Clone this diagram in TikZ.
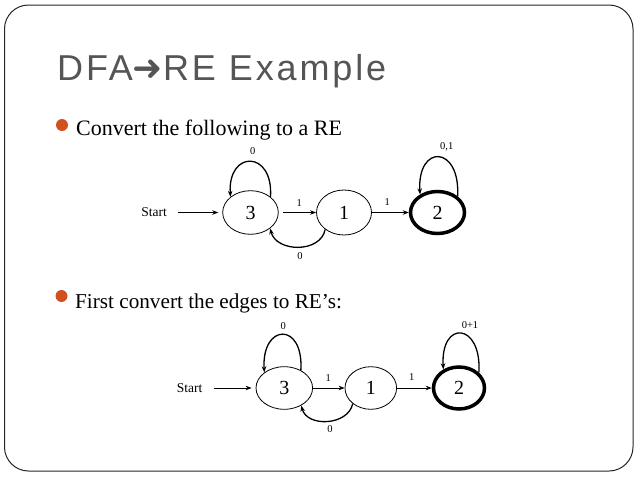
\documentclass[tikz,border=0pt]{standalone}
\usepackage{fontspec}
\setmainfont{Liberation Serif}
\newfontfamily\titlefont[LetterSpace=8]{Liberation Sans}
\newfontfamily\arrowfont{DejaVu Sans}
\usetikzlibrary{shapes.geometric,arrows.meta}
\definecolor{titlegray}{HTML}{555555}
\definecolor{bulletorange}{HTML}{D0501E}
\tikzset{
  state/.style={ellipse, draw, line width=0.8pt, inner sep=0pt, font=\fontsize{20}{20}\selectfont},
  final/.style={state, line width=3.5pt},
  lab/.style={font=\fontsize{10.5}{11}\selectfont, inner sep=0pt},
  startlab/.style={font=\fontsize{13.5}{14}\selectfont, inner sep=0pt},
  edge/.style={line width=0.8pt, -{Stealth[length=6pt,width=4.5pt]}},
  loopedge/.style={edge, line width=1.3pt},
  bulletdot/.style={circle, fill=bulletorange, minimum size=12pt, inner sep=0pt},
  body/.style={font=\fontsize{22}{24}\selectfont, anchor=base west, inner sep=0pt}
}
\begin{document}
\begin{tikzpicture}[x=1pt,y=-1pt]
\useasboundingbox (0,0) rectangle (638,479);
\draw[rounded corners=24pt, line width=1pt, black!85] (4.5,5) rectangle (633,471);
% title
\node[anchor=base west, inner sep=0pt, text=titlegray, font=\titlefont\fontsize{36}{40}\selectfont] (title) at (57,80.7) {DFA{\arrowfont ➜}RE Example};
% bullets
\node[bulletdot] (b1) at (62,125) {};
\node[body] (t1) at (76,135) {Convert the following to a RE};
\node[bulletdot] (b2) at (61.5,296) {};
\node[body, font=\fontsize{21.2}{24}\selectfont] (t2) at (75,308) {First convert the edges to RE’s:};
% diagram 1
\node[startlab] (s1) at (154,212.5) {Start};
\node[state, minimum width=55.6pt, minimum height=43.6pt] (a3) at (250.5,212.5) {3};
\node[state, minimum width=55pt, minimum height=45pt] (a1) at (344,212.5) {1};
\node[final, minimum width=54pt, minimum height=42pt] (a2) at (437.5,212.5) {2};
\draw[edge, shorten <=11pt, shorten >=4pt] (s1.east) -- (a3.west);
\draw[edge, shorten <=4pt] (a3.east) -- (a1.west);
\draw[edge] (a1.east) -- (a2.west);
\draw[loopedge] (a3.38) .. controls +(3,-47) and +(-3,-47) .. (a3.142);
\draw[loopedge] (a1.222) .. controls +(-4.7,24) and +(6,24) .. (a3.321);
\draw[loopedge] (a2.39) .. controls +(3,-51) and +(-3,-51) .. (a2.134);
\node[lab] (l1) at (252.7,151) {0};
\node[lab] (l2) at (299.3,203.3) {1};
\node[lab] (l3) at (300,256) {0};
\node[lab] (l4) at (387.3,201.7) {1};
\node[lab] (l5) at (446.7,147.3) {0,1};
% diagram 2
\node[startlab] (s2) at (189.7,388) {Start};
\node[state, minimum width=56.6pt, minimum height=42.6pt] (c3) at (284.3,388) {3};
\node[state, minimum width=51.6pt, minimum height=42.6pt] (c1) at (370.8,388) {1};
\node[final, minimum width=51pt, minimum height=42pt] (c2) at (459,388) {2};
\draw[edge, shorten <=11pt, shorten >=4pt] (s2.east) -- (c3.west);
\draw[edge] (c3.east) -- (c1.west);
\draw[edge] (c1.east) -- (c2.west);
\draw[loopedge] (c3.47) .. controls +(3,-49) and +(-3,-49) .. (c3.142);
\draw[loopedge] (c1.221) .. controls +(-4.7,22) and +(6,22) .. (c3.314);
\draw[loopedge] (c2.38) .. controls +(3,-50) and +(-3,-50) .. (c2.130);
\node[lab] (m1) at (283.3,325.7) {0};
\node[lab] (m2) at (328.3,378.3) {1};
\node[lab] (m3) at (330,429) {0};
\node[lab] (m4) at (411.7,376.7) {1};
\node[lab] (m5) at (470,325) {0+1};
\end{tikzpicture}
\end{document}
